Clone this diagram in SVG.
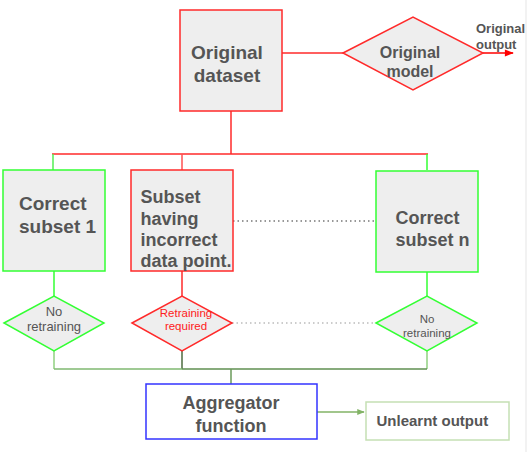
<svg xmlns="http://www.w3.org/2000/svg" width="531" height="452" viewBox="0 0 531 452">
<style>
text{font-family:"Liberation Sans",Arial,sans-serif;fill:#555555}
.b{font-weight:bold}
.box{fill:#eeeeee;stroke-width:1.5}
.red{stroke:#ff2a2a}
.grn{stroke:#33ff33}
.c{fill:none;stroke-width:1.5}
</style>
<defs>
<marker id="ar" viewBox="0 0 10 10" refX="9" refY="5" markerWidth="7" markerHeight="6" orient="auto" markerUnits="strokeWidth"><path d="M0,1 L10,5 L0,9 Z" fill="#ff0000"/></marker>
<marker id="ag" viewBox="0 0 10 10" refX="9" refY="5" markerWidth="6" markerHeight="5" orient="auto" markerUnits="strokeWidth"><path d="M0,1 L10,5 L0,9 Z" fill="#82b366"/></marker>
</defs>
<rect x="0" y="0" width="531" height="452" fill="#ffffff"/>
<line x1="526" y1="0" x2="526" y2="452" stroke="#eeeeee" stroke-width="1.5"/>
<g id="connectors">
<line class="c" x1="282" y1="53" x2="343" y2="53" stroke="#ff2a2a"/>
<line class="c" x1="483" y1="53" x2="513" y2="53" stroke="#ff0000" marker-end="url(#ar)"/>
<line class="c" x1="231" y1="111" x2="231" y2="154" stroke="#ff2a2a"/>
<line class="c" x1="52" y1="154" x2="428" y2="154" stroke="#ff2a2a"/>
<line class="c" x1="53" y1="154" x2="53" y2="170" stroke="#55ee55"/>
<line class="c" x1="182" y1="154" x2="182" y2="170" stroke="#ff5050"/>
<line class="c" x1="427" y1="154" x2="427" y2="170" stroke="#33ff33"/>
<line x1="233" y1="221" x2="376" y2="221" stroke="#333333" stroke-width="1.2" stroke-dasharray="1.5,3"/>
<line class="c" x1="54" y1="271" x2="54" y2="296" stroke="#33ff33"/>
<line class="c" x1="182" y1="271" x2="182" y2="296" stroke="#ff2a2a"/>
<line class="c" x1="427" y1="271" x2="427" y2="296" stroke="#33ff33"/>
<line x1="232" y1="323" x2="376" y2="323" stroke="#999999" stroke-width="1.2" stroke-dasharray="1.5,3"/>
<line class="c" x1="54" y1="351" x2="54" y2="369" stroke="#90d080"/>
<line class="c" x1="182" y1="351" x2="182" y2="369" stroke="#4d6b3f"/>
<line class="c" x1="427" y1="351" x2="427" y2="369" stroke="#90d080"/>
<line class="c" x1="54" y1="369" x2="182" y2="369" stroke="#7fb870"/>
<line class="c" x1="182" y1="369" x2="427" y2="369" stroke="#5f8f50"/>
<line class="c" x1="231" y1="369" x2="231" y2="384" stroke="#6a9a5a"/>
<line class="c" x1="317" y1="412" x2="364" y2="412" stroke="#82b366" marker-end="url(#ag)"/>
</g>
<g id="original-dataset">
<rect class="box red" x="180" y="10" width="102" height="101"/>
<text class="b" x="227" y="59" font-size="19" text-anchor="middle">Original</text>
<text class="b" x="227" y="82" font-size="19" text-anchor="middle">dataset</text>
</g>
<g id="original-model">
<polygon class="box red" points="343,53 413,17 483,53 413,90"/>
<text class="b" x="410" y="58" font-size="16" text-anchor="middle">Original</text>
<text class="b" x="410" y="77" font-size="16" text-anchor="middle">model</text>
</g>
<g id="original-output">
<text class="b" x="476" y="33" font-size="13">Original</text>
<text class="b" x="476" y="49" font-size="13">output</text>
</g>
<g id="correct-subset-1">
<rect class="box grn" x="3" y="170" width="102" height="101"/>
<text class="b" x="19" y="210" font-size="19">Correct</text>
<text class="b" x="19" y="233" font-size="19">subset 1</text>
</g>
<g id="subset-incorrect">
<rect class="box red" x="131" y="170" width="102" height="101"/>
<text class="b" x="140.5" y="203" font-size="18">Subset</text>
<text class="b" x="140.5" y="225" font-size="18">having</text>
<text class="b" x="140.5" y="246" font-size="18">incorrect</text>
<text class="b" x="140.5" y="267" font-size="18">data point.</text>
</g>
<g id="correct-subset-n">
<rect class="box grn" x="376" y="171" width="102" height="101"/>
<text class="b" x="395.5" y="224" font-size="18">Correct</text>
<text class="b" x="395.5" y="246" font-size="18">subset n</text>
</g>
<g id="no-retraining-1">
<polygon class="box grn" points="4,323 54,296 104,323 54,351"/>
<text x="54" y="316" font-size="13" text-anchor="middle">No</text>
<text x="54" y="331" font-size="13" text-anchor="middle">retraining</text>
</g>
<g id="retraining-required">
<polygon class="box red" points="132,323 182,296 232,323 182,351"/>
<text x="186" y="317" font-size="11.5" text-anchor="middle" style="fill:#ff2020">Retraining</text>
<text x="186" y="330" font-size="11.5" text-anchor="middle" style="fill:#ff2020">required</text>
</g>
<g id="no-retraining-n">
<polygon class="box grn" points="376,323 427,296 477,323 427,351"/>
<text x="427" y="323" font-size="11.5" text-anchor="middle">No</text>
<text x="427" y="337" font-size="11.5" text-anchor="middle">retraining</text>
</g>
<g id="aggregator">
<rect x="146" y="384" width="171" height="55" fill="#ffffff" stroke="#3333ff" stroke-width="1.5"/>
<text class="b" x="231" y="409" font-size="18" text-anchor="middle">Aggregator</text>
<text class="b" x="231" y="432" font-size="18" text-anchor="middle">function</text>
</g>
<g id="unlearnt-output">
<rect x="366" y="402" width="143" height="38" fill="#ffffff" stroke="#c5e0b4" stroke-width="1.5"/>
<text class="b" x="376.5" y="426" font-size="15">Unlearnt output</text>
</g>
</svg>
